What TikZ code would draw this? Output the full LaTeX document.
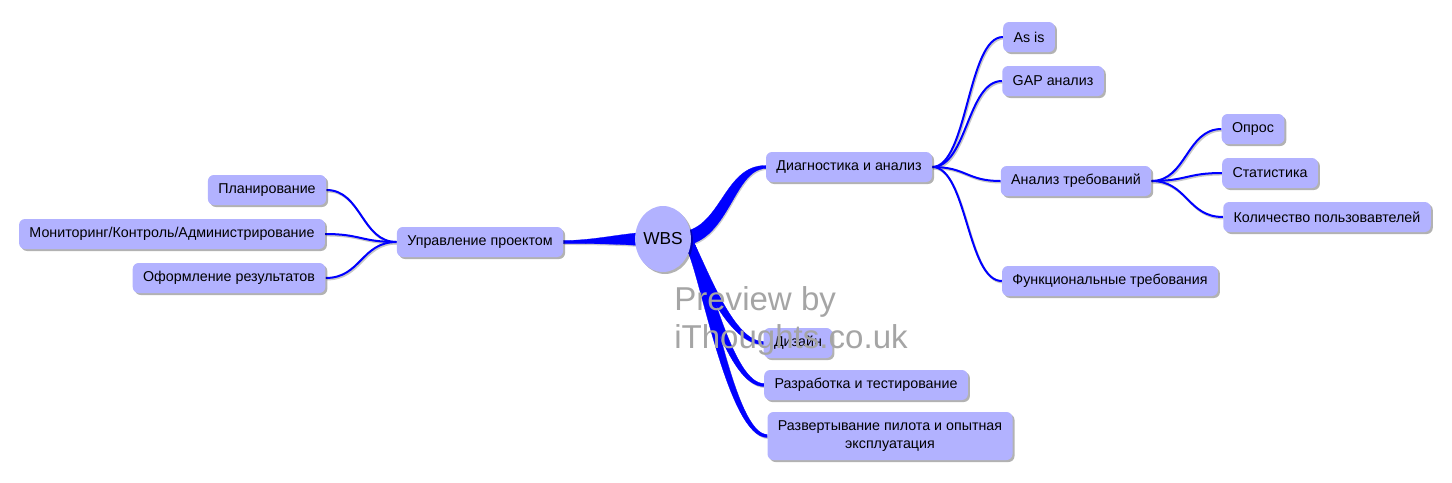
\documentclass[tikz,border=0pt]{standalone}
\usepackage{fontspec}
\setmainfont{Liberation Sans}
\usetikzlibrary{shapes.geometric,shadows,calc,backgrounds}
\definecolor{nodefill}{RGB}{178,178,255}
\definecolor{edgeblue}{RGB}{0,0,255}
\definecolor{wmgray}{RGB}{165,165,165}
\tikzset{
  nshadow/.style={drop shadow={shadow xshift=1.5pt,shadow yshift=-1.5pt,opacity=0.3,fill=black}},
  box/.style={draw=none,fill=nodefill,rounded corners=4.5pt,minimum height=22.5pt,
    inner xsep=7.8pt,inner ysep=2pt,font=\fontsize{10.7}{13.5}\selectfont,nshadow},
  rootnode/.style={ellipse,fill=nodefill,minimum width=40.5pt,minimum height=49.5pt,
    inner sep=0pt,font=\fontsize{13}{15}\selectfont,nshadow},
  thinedge/.style={draw=edgeblue,line width=1.5pt},
  edgeshadow/.style={draw=black!22,line width=1.5pt,transform canvas={xshift=0.8pt,yshift=-1.1pt}},
  taperfill/.style={fill=edgeblue,draw=edgeblue,line width=0.2pt},
  tapershadow/.style={fill=black!20,transform canvas={xshift=0.8pt,yshift=-1.1pt}},
  watermark/.style={text=wmgray,font=\fontsize{24.8}{28.5}\selectfont,align=left,inner sep=0pt}
}
\newcommand\sedge[2]{%
  \path (#1) coordinate (sa) (#2) coordinate (sb);
  \path ($(sa)!0.5!(sb)$) coordinate (sm);
  \draw[edgeshadow] (sa) .. controls (sm |- sa) and (sm |- sb) .. (sb);
  \draw[thinedge] (sa) .. controls (sm |- sa) and (sm |- sb) .. (sb);}
\begin{document}
\begin{tikzpicture}[x=0.75pt,y=-0.75pt]
\useasboundingbox (0,0) rectangle (1452,482);
% root
\node[rootnode] (wbs) at (663,239) {WBS};
% first level
\node[box] (diag) at (849,167) {Диагностика и анализ};
\node[box] (upr) at (480,242) {Управление проектом};
\node[box] (diz) at (798,343) {Дизайн};
\node[box] (razr) at (866,385) {Разработка и тестирование};
\node[box,align=center,minimum height=36pt] (razv) at (890,436) {Развертывание пилота и опытная\\эксплуатация};
% left children
\node[box] (plan) at (267,190) {Планирование};
\node[box] (mon) at (172,234) {Мониторинг/Контроль/Администрирование};
\node[box] (ofo) at (229,278) {Оформление результатов};
% diag children
\node[box] (asis) at (1029,37) {As is};
\node[box] (gap) at (1053,81) {GAP анализ};
\node[box] (atr) at (1076,181) {Анализ требований};
\node[box] (ftr) at (1110,281) {Функциональные требования};
% atr children
\node[box] (opr) at (1253,129) {Опрос};
\node[box] (stat) at (1270,173) {Статистика};
\node[box] (kol) at (1327,217) {Количество пользовавтелей};

\begin{scope}[on background layer]
  % tapered root edges
  \def\pdiag{($(wbs.center)+(15,-7)$) .. controls ($(wbs.center)+(58,-7)$) and ($(diag.west)+(-43,-2)$) .. ($(diag.west)+(0,-1.5)$)
    -- ($(diag.west)+(0,1.5)$) .. controls ($(diag.west)+(-33,2)$) and ($(wbs.center)+(66,7)$) .. ($(wbs.center)+(15,7)$) -- cycle}
  \def\pupr{($(wbs.center)+(-15,-7)$) .. controls ($(wbs.center)+(-45,-5)$) and ($(upr.east)+(30,-1.5)$) .. ($(upr.east)+(0,-1.5)$)
    -- ($(upr.east)+(0,1.5)$) .. controls ($(upr.east)+(30,1.5)$) and ($(wbs.center)+(-45,5)$) .. ($(wbs.center)+(-15,7)$) -- cycle}
  \def\pdown#1#2{($(wbs.center)+(31,4)$) .. controls ($(wbs.center)+(46,34)$) and ($(#1.west)+(#2+3,-1.5)$) .. ($(#1.west)+(0,-1.5)$)
    -- ($(#1.west)+(0,1.5)$) .. controls ($(#1.west)+(#2-3,1.5)$) and ($(wbs.center)+(38,38)$) .. ($(wbs.center)+(23,8)$) -- cycle}
  \fill[tapershadow] \pdiag;
  \fill[tapershadow] \pupr;
  \fill[tapershadow] \pdown{diz}{-32};
  \fill[tapershadow] \pdown{razr}{-34};
  \fill[tapershadow] \pdown{razv}{-36};
  \filldraw[taperfill] \pdiag;
  \filldraw[taperfill] \pupr;
  \filldraw[taperfill] \pdown{diz}{-32};
  \filldraw[taperfill] \pdown{razr}{-34};
  \filldraw[taperfill] \pdown{razv}{-36};
  % thin edges
  \sedge{upr.west}{plan.east}
  \sedge{upr.west}{mon.east}
  \sedge{upr.west}{ofo.east}
  \sedge{diag.east}{asis.west}
  \sedge{diag.east}{gap.west}
  \sedge{diag.east}{atr.west}
  \sedge{diag.east}{ftr.west}
  \sedge{atr.east}{opr.west}
  \sedge{atr.east}{stat.west}
  \sedge{atr.east}{kol.west}
\end{scope}
% watermark
\node[watermark,anchor=north west] (wm) at (674,286) {Preview by\\iThoughts.co.uk};
\end{tikzpicture}
\end{document}
